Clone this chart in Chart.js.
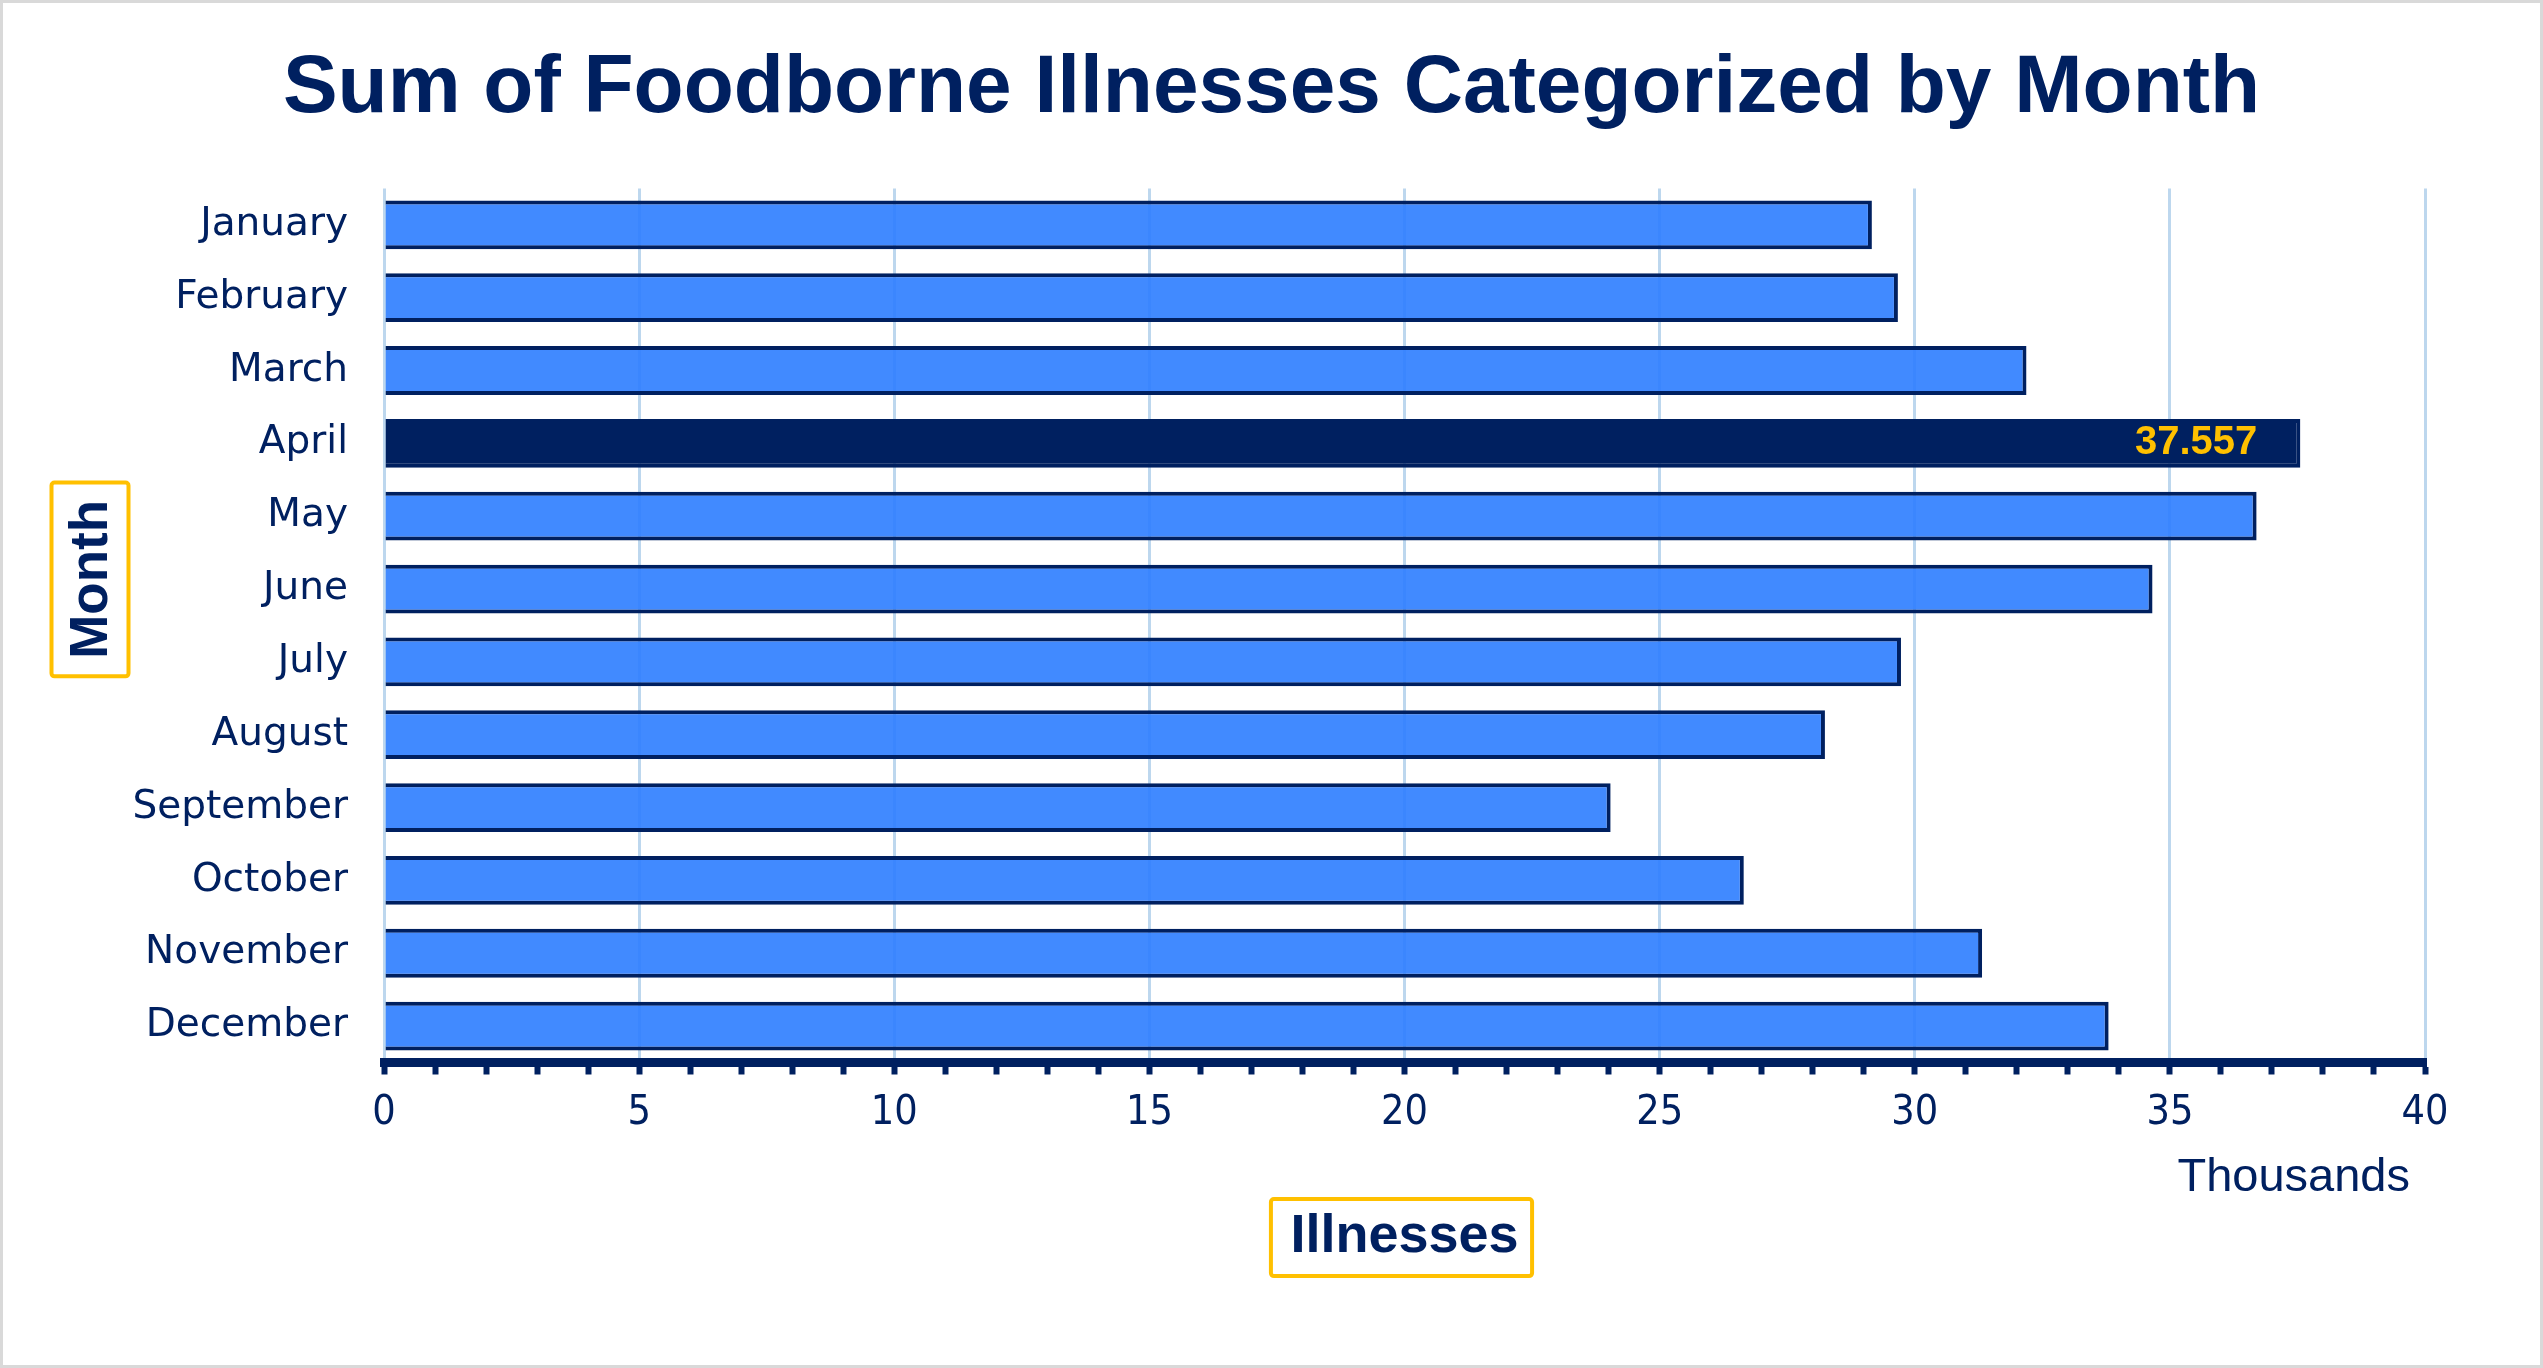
<!DOCTYPE html>
<html>
<head>
<meta charset="utf-8">
<title>Sum of Foodborne Illnesses Categorized by Month</title>
<script src="https://cdn.jsdelivr.net/npm/chart.js@4.4.1/dist/chart.umd.min.js"></script>
<style>
  html, body { margin: 0; padding: 0; background: #ffffff; overflow: hidden; }
  #wrap { position: relative; width: 2543px; height: 1368px; }
  /* thin grey frame round the whole chart */
  #frame { position: absolute; left: 0; top: 0; right: 0; bottom: 0;
           border: 3px solid #d9d9d9; box-sizing: border-box; pointer-events: none; }
</style>
</head>
<body>
<div id="wrap">
  <canvas id="canvas"></canvas>
  <div id="frame"></div>
</div>
<script>
// months on the category axis:
const months = ['January', 'February', 'March', 'April', 'May', 'June',
  'July', 'August', 'September', 'October', 'November', 'December'];

// sum of illnesses per month, in thousands:
const illnesses = [29.16, 29.67, 32.19, 37.557, 36.70, 34.66,
  29.73, 28.24, 24.04, 26.65, 31.32, 33.80];

// the month that gets the dark bar and a value label:
const highlightMonth = 'April';

// value axis: minor ticks every 1, labels and grid lines every 5:
const xTickLabels = [0, 5, 10, 15, 20, 25, 30, 35, 40];

// texts:
const chartTitle = 'Sum of Foodborne Illnesses Categorized by Month';
const xTitle = 'Illnesses';
const yTitle = 'Month';
const unitsNote = 'Thousands';

// colours:
const navy = '#002060';
const gold = '#FFC000';
const barBlue = 'rgba(44, 125, 255, 0.9)';
const gridBlue = '#BDD7EE';

const sansFamily = '"Liberation Sans", Arial, sans-serif';

// bar colours, the highlighted month in navy:
let barColors = [];
for (let m of months) {
  barColors.push(m === highlightMonth ? navy : barBlue);
}

// draws the value label, the units note and the gold title boxes:
const annotations = {
  id: 'annotations',
  afterDatasetsDraw(chart) {
    const ctx = chart.ctx;
    const i = months.indexOf(highlightMonth);
    const bar = chart.getDatasetMeta(0).data[i];
    ctx.save();
    ctx.font = 'bold 40px ' + sansFamily;
    ctx.fillStyle = gold;
    ctx.textAlign = 'right';
    ctx.textBaseline = 'middle';
    ctx.fillText(illnesses[i].toFixed(3), bar.x - 43, bar.y);
    ctx.restore();
  },
  afterDraw(chart) {
    const ctx = chart.ctx;
    const area = chart.chartArea;
    const xScale = chart.scales.x;
    ctx.save();

    // "Thousands" under the right end of the axis:
    ctx.font = '47px ' + sansFamily;
    ctx.fillStyle = navy;
    ctx.textAlign = 'right';
    ctx.textBaseline = 'middle';
    ctx.fillText(unitsNote, area.right - 15, area.bottom + 116);

    // box round the x axis title (title itself is drawn by Chart.js):
    ctx.font = 'bold 54px ' + sansFamily;
    let w = ctx.measureText(xTitle).width + 33;
    let h = 77;
    let cx = (xScale.left + xScale.right) / 2 - 3;
    let cy = xScale.bottom - 54 * 1.2 / 2;
    ctx.strokeStyle = gold;
    ctx.lineWidth = 4;
    ctx.beginPath();
    ctx.roundRect(cx - w / 2, cy - h / 2, w, h, 3);
    ctx.stroke();

    // y axis title, rotated, with its box:
    ctx.font = 'bold 53px ' + sansFamily;
    let len = ctx.measureText(yTitle).width;
    let tx = 90;
    let ty = area.top + 391;
    ctx.beginPath();
    ctx.roundRect(tx - 77 / 2, ty - (len + 35) / 2, 77, len + 35, 3);
    ctx.stroke();
    ctx.translate(tx, ty);
    ctx.rotate(-Math.PI / 2);
    ctx.textAlign = 'center';
    ctx.textBaseline = 'middle';
    ctx.fillStyle = navy;
    ctx.fillText(yTitle, 0, 2);
    ctx.restore();
  }
};

const data = {
  labels: months,
  datasets: [{
    label: 'Illnesses',
    data: illnesses,
    backgroundColor: barColors,
    borderColor: navy,
    borderWidth: 4,
    barPercentage: 0.67,
    categoryPercentage: 1
  }]
};

const config = {
  type: 'bar',
  data: data,
  options: {
    indexAxis: 'y',
    responsive: true,
    maintainAspectRatio: false,
    animation: false,
    layout: {
      padding: { top: 20, left: 118, right: 118, bottom: 98 }
    },
    plugins: {
      legend: { display: false },
      tooltip: { enabled: false },
      title: {
        display: true,
        text: chartTitle,
        color: navy,
        font: { family: sansFamily, size: 82, weight: 'bold' },
        padding: { top: 20, bottom: 50 }
      }
    },
    scales: {
      x: {
        type: 'linear',
        min: xTickLabels[0],
        max: xTickLabels[xTickLabels.length - 1],
        afterFit: (scale) => { scale.height = 207.5; },
        ticks: {
          stepSize: 1,
          autoSkip: false,
          maxRotation: 0,
          padding: 14,
          color: navy,
          font: { family: '"DejaVu Sans Condensed", "DejaVu Sans", sans-serif', size: 41 },
          callback: (value) => xTickLabels.includes(value) ? String(value) : ''
        },
        grid: {
          color: (c) => (c.tick && xTickLabels.includes(c.tick.value)) ? gridBlue : 'rgba(0,0,0,0)',
          lineWidth: 3,
          tickColor: navy,
          tickWidth: 6,
          tickLength: 12
        },
        border: { display: true, color: navy, width: 9 },
        title: {
          display: true,
          text: xTitle,
          color: navy,
          font: { family: sansFamily, size: 54, weight: 'bold' },
          padding: { top: 68, bottom: 0 }
        }
      },
      y: {
        type: 'category',
        offset: true,
        afterFit: (scale) => { scale.width = 266; },
        grid: { display: false, drawTicks: false },
        border: { display: false },
        ticks: {
          padding: 36,
          color: navy,
          font: { family: '"DejaVu Sans", sans-serif', size: 39 }
        }
      }
    }
  },
  plugins: [annotations]
};

function setup() {
  const ctx = document.getElementById('canvas').getContext('2d');
  new Chart(ctx, config);
}

document.addEventListener('DOMContentLoaded', setup);
</script>
</body>
</html>
